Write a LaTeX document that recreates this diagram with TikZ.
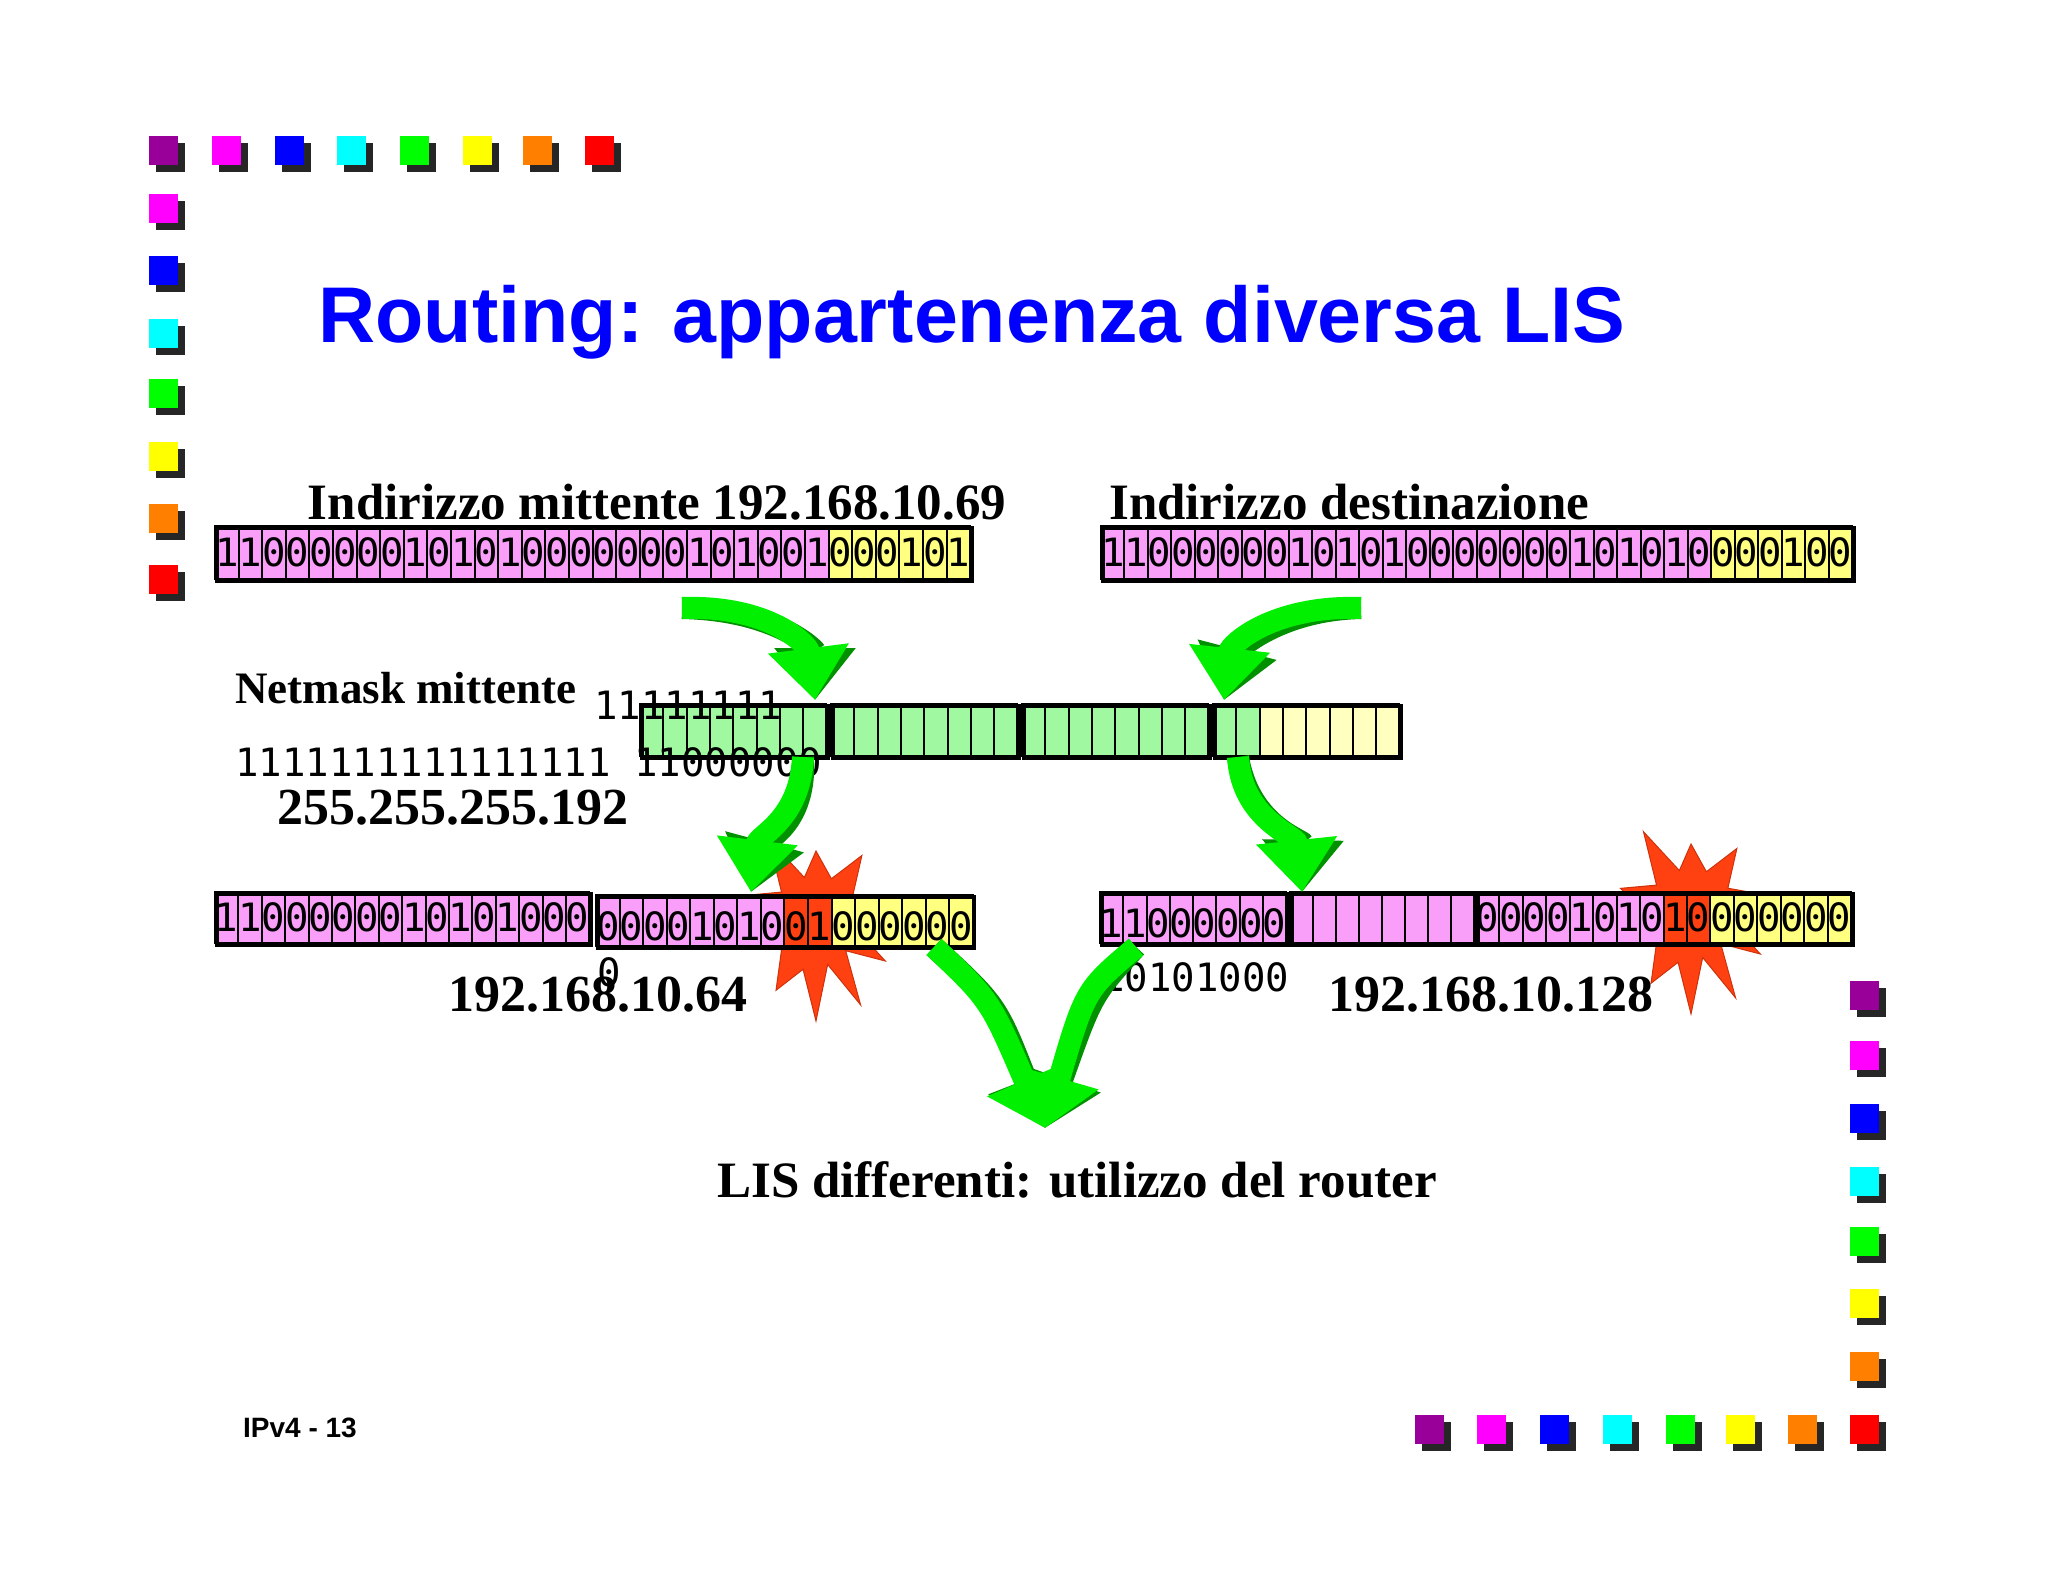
\documentclass[tikz,border=0pt]{standalone}
\usepackage{fontspec}
\setmainfont{Liberation Serif}
\newfontfamily\hel{Liberation Sans}
\newfontfamily\mono{DejaVu Sans Mono}
\usetikzlibrary{arrows.meta}
\definecolor{cp}{HTML}{F99FF9}
\definecolor{cy}{HTML}{FFFF80}
\definecolor{cr}{HTML}{FF4010}
\definecolor{cg}{HTML}{A0F8A0}
\definecolor{cly}{HTML}{FFFFC0}
\definecolor{agreen}{HTML}{00F000}
\definecolor{adark}{HTML}{009000}
\definecolor{sq1}{HTML}{990099}
\definecolor{sq2}{HTML}{FF00FF}
\definecolor{sq3}{HTML}{0000FF}
\definecolor{sq4}{HTML}{00FFFF}
\definecolor{sq5}{HTML}{00FF00}
\definecolor{sq6}{HTML}{FFFF00}
\definecolor{sq7}{HTML}{FF8000}
\definecolor{sq8}{HTML}{FF0000}
\def\bitdy{0}
\def\cA{cp}\def\cB{cr}\def\cC{cy}
% name,x,y,cellw,h,n,nA,nB,bits
\newcommand\bitstrip[9]{%
 \foreach \i in {1,...,#6}{%
   \ifnum\i>#7\relax\ifnum\i>\numexpr#7+#8\relax\def\cc{\cC}\else\def\cc{\cB}\fi\else\def\cc{\cA}\fi
   \fill[\cc] ({#2+(\i-1)*#4},#3) rectangle ++(#4,#5);
   \draw[line width=2pt] ({#2+(\i-1)*#4},#3) rectangle ++(#4,#5);
 }
 \pgfmathsetmacro\ww{#4*#6}\pgfmathsetmacro\hh{#5}
 \node[draw,line width=3.5pt,inner sep=0,minimum width=\ww pt,minimum height=\hh pt,anchor=north west] (#1) at (#2,#3) {};
 \foreach \b [count=\i] in {#9} {\node[bit] at ({#2+(\i-0.5)*#4},{#3+#5/2+\bitdy}) {\b};}
}
\newcommand\burst[2]{%
 \fill[cr,draw=cr!80!black,line width=1pt] (#1,#2)
  +(0:70) -- +(15:45) -- +(30:80) -- +(45:42) -- +(62:95) -- +(75:45) -- +(90:100) -- +(105:50)
  -- +(120:80) -- +(140:45) -- +(160:60) -- +(180:45) -- +(200:75) -- +(220:45) -- +(240:95)
  -- +(255:45) -- +(270:70) -- +(290:45) -- +(305:80) -- +(325:45) -- +(345:75) -- cycle;}
\tikzset{
 bit/.style={inner sep=0,font=\mono\fontsize{39}{39}\selectfont},
 lbl/.style={inner sep=0,font=\bfseries\fontsize{51}{51}\selectfont},
 big/.style={inner sep=0,font=\bfseries\fontsize{52}{52}\selectfont},
 garrow/.style={line width=22pt,draw=agreen,-{Triangle[length=52pt,width=78pt]}},
 gshadow/.style={line width=22pt,draw=adark,-{Triangle[length=52pt,width=78pt]},xshift=7pt,yshift=-5pt}
}
\newcommand\sq[3]{%
 \fill[black!85] (#1-14.5+7,#2-14.5+7) rectangle ++(29,29);
 \fill[#3] (#1-14.5,#2-14.5) rectangle ++(29,29);}
\begin{document}
\begin{tikzpicture}[x=1pt,y=-1pt]
\useasboundingbox (0,0) rectangle (2048,1582);
\fill[white] (0,0) rectangle (2048,1582);
% decorative squares
\foreach \x/\c in {163/sq1,226/sq2,289/sq3,351/sq4,414/sq5,477/sq6,537/sq7,599/sq8} {\sq{\x}{150}{\c}}
\foreach \y/\c in {208/sq2,270/sq3,333/sq4,393/sq5,456/sq6,518/sq7,579/sq8} {\sq{163}{\y}{\c}}
\foreach \y/\c in {995/sq1,1055/sq2,1118/sq3,1181/sq4,1241/sq5,1303/sq6,1366/sq7} {\sq{1864}{\y}{\c}}
\foreach \x/\c in {1429/sq1,1491/sq2,1554/sq3,1617/sq4,1680/sq5,1740/sq6,1802/sq7,1864/sq8} {\sq{\x}{1429}{\c}}
% title
\node[inner sep=0,text=sq3,font=\hel\bfseries\fontsize{79}{79}\selectfont] (title) at (972,322) {Routing: appartenenza diversa LIS};
% labels
\node[lbl] (lsend) at (657,502) {Indirizzo mittente 192.168.10.69};
\node[lbl,anchor=west] (ldest) at (1109,502) {Indirizzo destinazione};
% row 1
\bitstrip{src}{215}{526}{23.6}{53}{32}{26}{0}{1,1,0,0,0,0,0,0,1,0,1,0,1,0,0,0,0,0,0,0,1,0,1,0,0,1,0,0,0,1,0,1}
\bitstrip{dst}{1101}{526}{23.47}{53}{32}{26}{0}{1,1,0,0,0,0,0,0,1,0,1,0,1,0,0,0,0,0,0,0,1,0,1,0,1,0,0,0,0,1,0,0}
% netmask
\def\cA{cg}\def\cC{cly}
\bitstrip{m1}{640}{704}{23.3}{52}{8}{8}{0}{}
\bitstrip{m2}{831}{704}{23.3}{52}{8}{8}{0}{}
\bitstrip{m3}{1022}{704}{23.3}{52}{8}{8}{0}{}
\bitstrip{m4}{1213}{704}{23.3}{52}{8}{2}{0}{}
\def\cA{cp}\def\cC{cy}
\node[lbl,font=\bfseries\fontsize{45}{45}\selectfont,anchor=west] (lnm) at (235,688) {Netmask mittente};
\node[bit,anchor=west] (nm1) at (594,705) {11111111};
\node[bit,anchor=west] (nm2) at (235,762) {1111111111111111 11000000};
\node[big,anchor=west] (nmd) at (277,808) {255.255.255.192};
% bursts
\burst{816}{921}
\burst{1691}{914}
% row 3 left
\bitstrip{a1}{215}{892}{23.4}{51}{16}{16}{0}{1,1,0,0,0,0,0,0,1,0,1,0,1,0,0,0}
\def\bitdy{6}
\bitstrip{a2}{596}{895}{23.55}{51}{16}{8}{2}{0,0,0,0,1,0,1,0,0,1,0,0,0,0,0,0}
\def\bitdy{0}
\node[bit] (ov) at (609,972) {0};
\node[big] (n64) at (598,995) {192.168.10.64};
% row 3 right
\def\bitdy{6}
\bitstrip{c1}{1100}{892}{23.25}{51}{8}{8}{0}{1,1,0,0,0,0,0,0}
\def\bitdy{0}
\bitstrip{c2}{1290}{892}{23.0}{51}{8}{8}{0}{}
\bitstrip{c3}{1476}{892}{23.44}{51}{16}{8}{2}{0,0,0,0,1,0,1,0,1,0,0,0,0,0,0,0}
\node[bit,anchor=west] (c1b) at (1101,977) {10101000};
\node[big] (n128) at (1491,995) {192.168.10.128};
% arrows
\coordinate (p1) at (682,608); \coordinate (q1) at (815,700);
\coordinate (p2) at (1361,608); \coordinate (q2) at (1224,700);
\coordinate (p3) at (803,757); \coordinate (q3) at (751,892);
\coordinate (p4) at (1238,757); \coordinate (q4) at (1302,892);
\coordinate (v1) at (934,947); \coordinate (v2) at (1136,947); \coordinate (vt) at (1045,1128);
\foreach \s in {gshadow,garrow}{
 \draw[\s] (p1) .. controls (770,605) and (808,645) .. (q1);
 \draw[\s] (p2) .. controls (1272,605) and (1230,645) .. (q2);
 \draw[\s] (p3) .. controls (800,820) and (758,835) .. (q3);
 \draw[\s] (p4) .. controls (1242,820) and (1296,835) .. (q4);
 \draw[\s] (v1) .. controls (990,1000) .. (vt);
 \draw[\s] (v2) .. controls (1085,990) .. (vt);
}
\node[lbl] (lis) at (1077,1180) {LIS differenti: utilizzo del router};
\node[inner sep=0,font=\hel\bfseries\fontsize{28}{28}\selectfont,anchor=west] (ipv) at (243,1428) {IPv4 - 13};
\end{tikzpicture}
\end{document}
